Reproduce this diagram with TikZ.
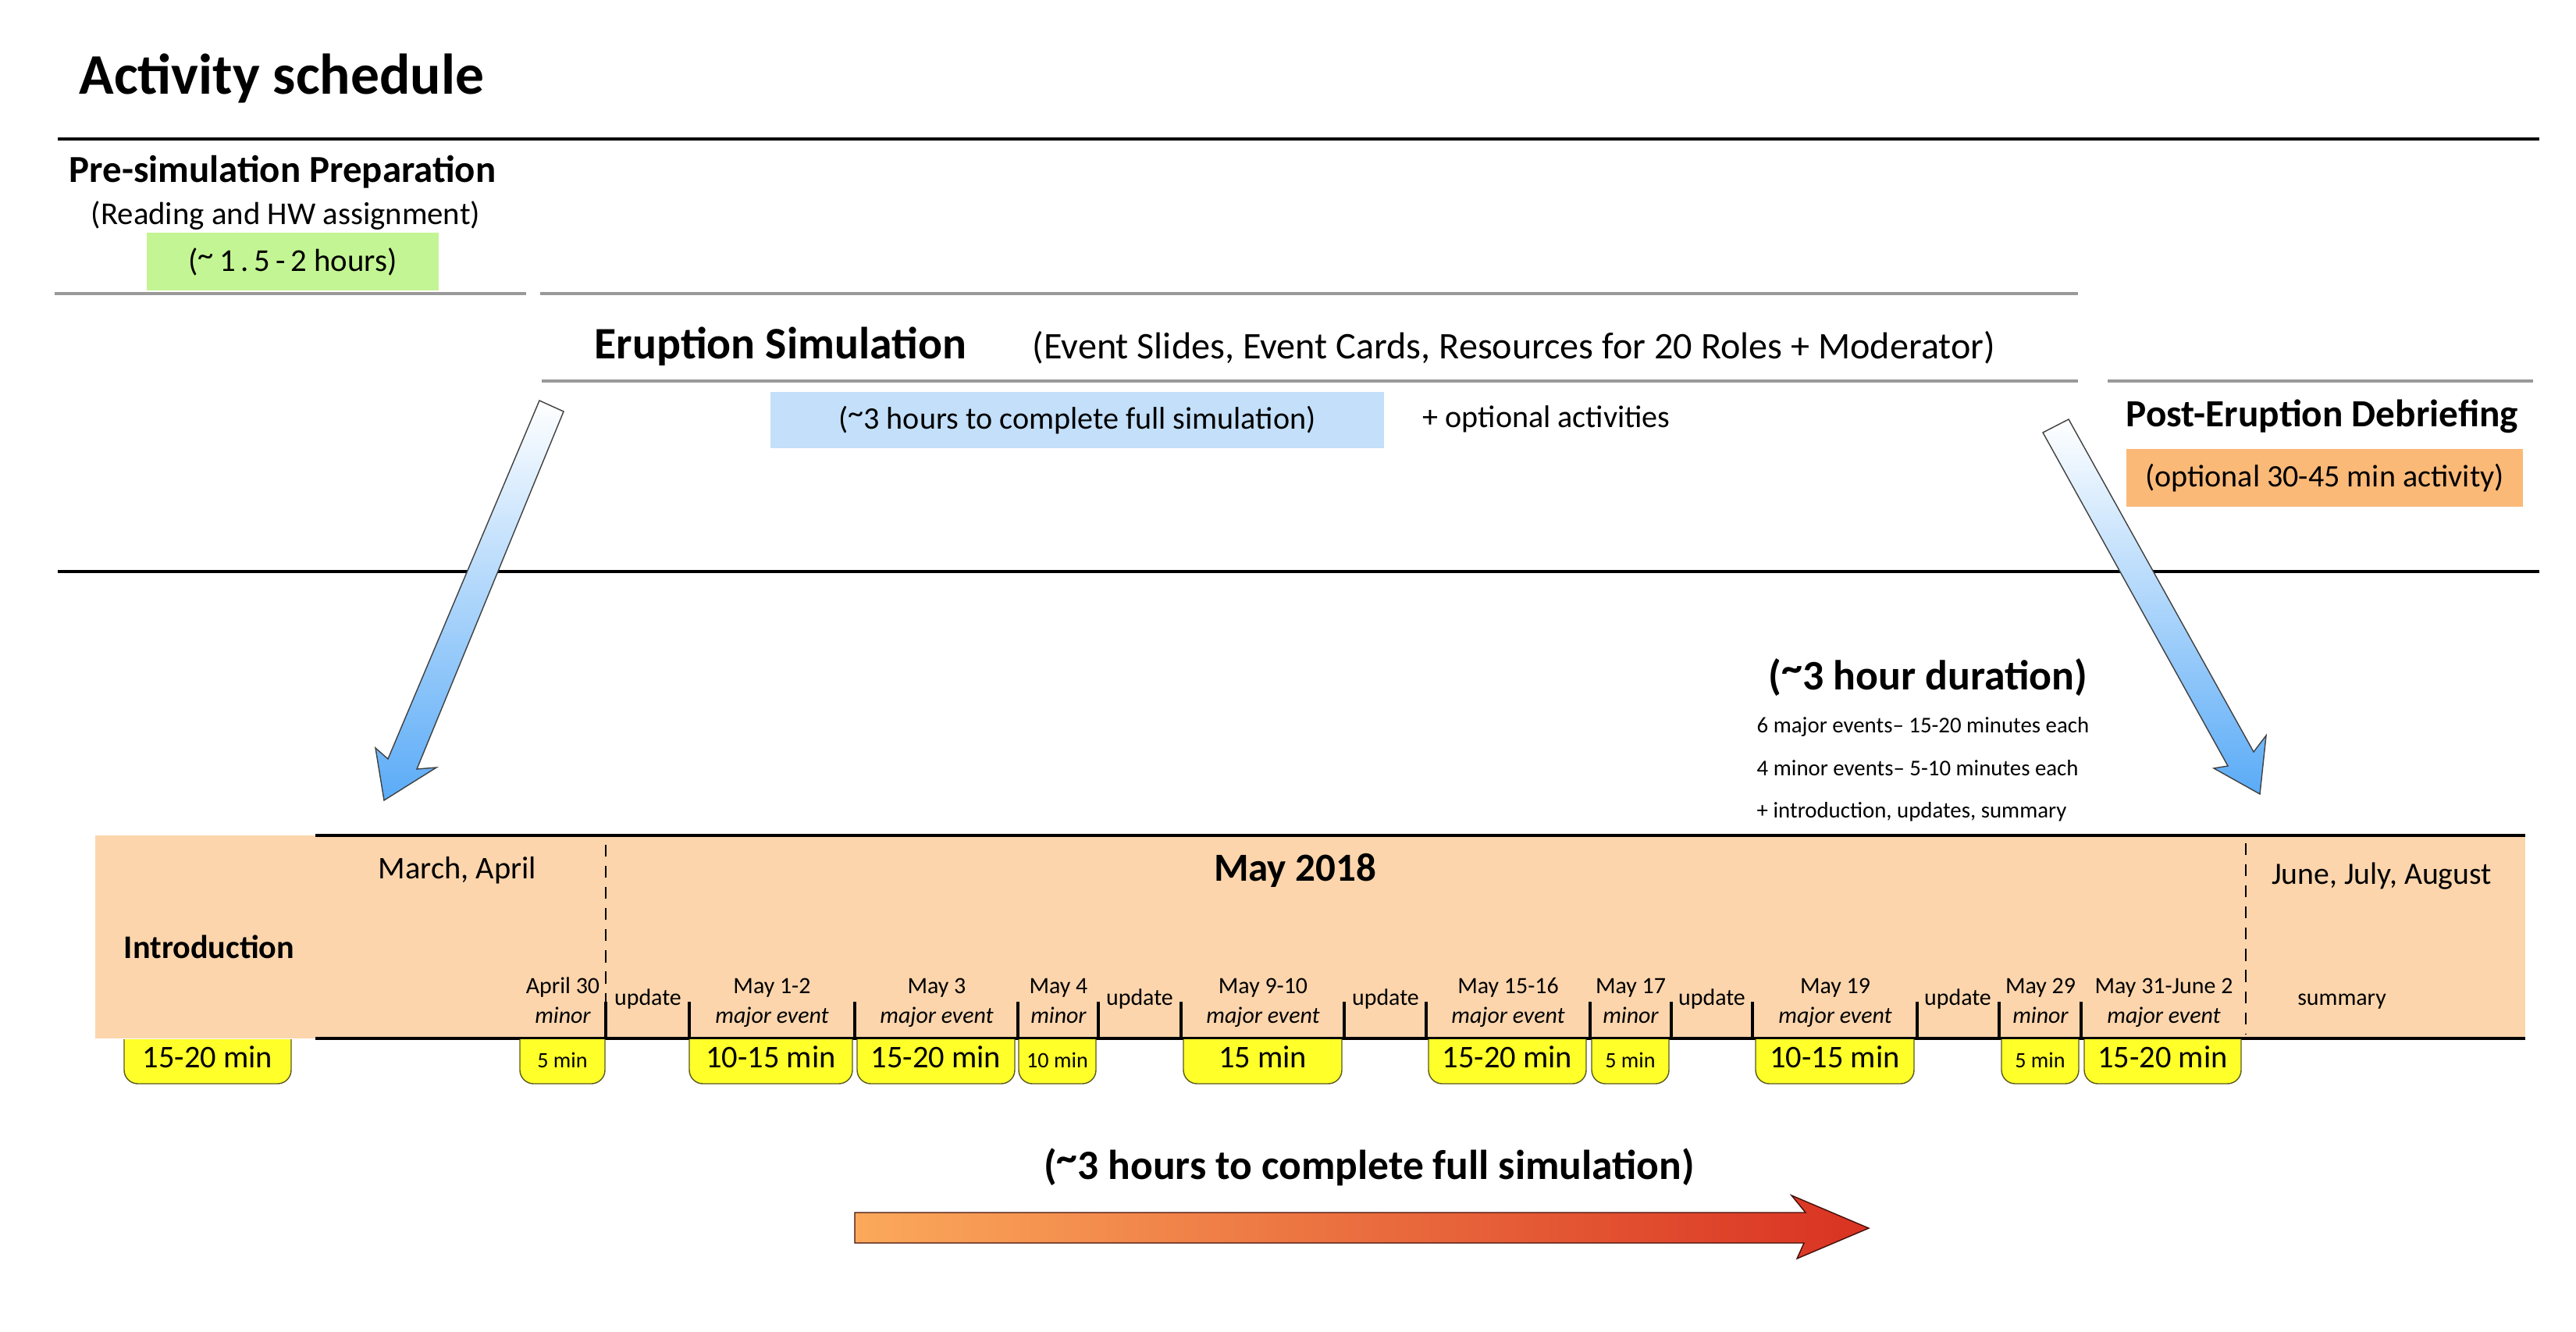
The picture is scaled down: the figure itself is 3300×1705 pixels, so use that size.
\documentclass[tikz,border=0pt]{standalone}
\usepackage{fontspec}
\setmainfont{Carlito}
\usetikzlibrary{positioning}
\usepackage{xcolor}
\definecolor{peach}{RGB}{252,213,172}
\definecolor{durYellow}{RGB}{255,255,42}
\definecolor{durLine}{RGB}{90,90,30}
\definecolor{prepGreen}{RGB}{196,245,148}
\definecolor{simBlue}{RGB}{195,223,249}
\definecolor{postOrange}{RGB}{251,185,120}
\definecolor{ruleGray}{RGB}{153,153,153}
\definecolor{arrowBlue}{RGB}{90,171,247}
\definecolor{timeStart}{RGB}{251,169,91}
\definecolor{timeEnd}{RGB}{217,50,34}
\newcommand{\fsz}[1]{\fontsize{#1}{#1}\selectfont}
\newcommand{\hitilde}{\raisebox{0.35ex}{\textasciitilde}}

\begin{document}
\begin{tikzpicture}[x=0.01cm, y=-0.01cm, every node/.style={inner sep=0pt, anchor=base},
    rule/.style={line width=1.3pt},
    grayrule/.style={draw=ruleGray, line width=1pt},
    tick/.style={line width=0.9pt},
    durbox/.style={draw=durLine, fill=durYellow, line width=0.4pt, rounded corners=5pt},
    bluearrow/.style={draw=black!75, line width=0.4pt, top color=white, bottom color=arrowBlue},
    evdate/.style={font=\fsz{8.5}},
    evkind/.style={font=\itshape\fsz{8.5}}]
    \useasboundingbox (0,0) rectangle (3300,1705);

    % header
    \node [font=\bfseries\fsz{20.9}, anchor=base west] (title) at (101,120) {Activity schedule};
    \draw [rule] (74,178) -- (3253,178);

    % pre-simulation
    \node [font=\bfseries\fsz{13.9}] (pre) at (362,233) {Pre-simulation Preparation};
    \node [font=\fsz{11.6}] (preread) at (366,287) {(Reading and HW assignment)};
    \node [fill=prepGreen, anchor=center, minimum width=3.73cm, minimum height=0.74cm, font=\fsz{11.6}] (prehours) at (375,335) {(\hitilde\,1\,.\,5\,-\,2 hours)};
    \draw [grayrule] (70,376) -- (674,376);
    \draw [grayrule] (692,376) -- (2662,376);

    % eruption simulation
    \node [font=\bfseries\fsz{16.4}, anchor=base west] (erupt) at (761,459) {Eruption Simulation};
    \node [font=\fsz{13.7}, anchor=base west] (eruptres) at (1322,459) {(Event Slides, Event Cards, Resources for 20 Roles + Moderator)};
    \draw [grayrule] (694,488) -- (2662,488);
    \draw [grayrule] (2700,488) -- (3245,488);
    \node [fill=simBlue, anchor=center, minimum width=7.85cm, minimum height=0.72cm, font=\fsz{11.4}] (simhours) at (1380,538) {(\hitilde 3 hours to complete full simulation)};
    \node [font=\fsz{11.4}, anchor=base west] (optional) at (1822,547) {+ optional activities};

    % post-eruption
    \node [font=\bfseries\fsz{14}] (post) at (2975,546) {Post-Eruption Debriefing};
    \node [fill=postOrange, anchor=center, minimum width=5.08cm, minimum height=0.73cm, font=\fsz{11.4}] (posthours) at (2978,612) {(optional 30-45 min activity)};

    \draw [rule] (74,732) -- (3253,732);

    % arrows down to the timeline
    \shade [bluearrow] (691,513) -- (497,972) -- (481,958) -- (492,1025) -- (559,983) -- (534,985) -- (722,527) -- cycle;
    \shade [bluearrow] (2617,554) -- (2854,981) -- (2836,984) -- (2895,1017) -- (2903,942) -- (2887,963) -- (2650,537) -- cycle;

    % duration notes
    \node [font=\bfseries\fsz{15.3}] (threehour) at (2470,883) {(\hitilde 3 hour duration)};
    \node [font=\fsz{8.2}, anchor=base west] (majors) at (2250,938) {6 major events-- 15-20 minutes each};
    \node [font=\fsz{8.2}, anchor=base west] (minors) at (2250,993) {4 minor events-- 5-10 minutes each};
    \node [font=\fsz{8.2}, anchor=base west] (extras) at (2250,1047) {+ introduction, updates, summary};

    % timeline band
    \fill [peach] (122,1070) rectangle (3235,1330);
    \draw [rule] (404,1070) -- (3235,1070);
    \draw [rule] (404,1330) -- (3235,1330);
    \draw [line width=0.8pt, dash pattern=on 4.3pt off 3.4pt] (776,1082) -- (776,1283);
    \draw [line width=0.8pt, dash pattern=on 4.3pt off 3.4pt] (2877,1080) -- (2877,1325);
    \foreach \x in {776,883,1095,1304,1407,1513,1722,1827,2037,2141,2245,2456,2561,2666}
        \draw [tick] (\x,1283) -- (\x,1330);

    \node [font=\bfseries\fsz{12}] (intro) at (268,1227) {Introduction};
    \node [font=\fsz{11.5}] (marapr) at (586,1125) {March, April};
    \node [font=\bfseries\fsz{14.5}] (may) at (1659,1128) {May 2018};
    \node [font=\fsz{11.3}] (summer) at (3051,1132) {June, July, August};

    \foreach \x/\d/\k [count=\i] in {721/April 30/minor, 989/May 1-2/major event, 1200/May 3/major event,
        1356/May 4/minor, 1618/May 9-10/major event, 1932/May 15-16/major event, 2089/May 17/minor,
        2351/May 19/major event, 2614/May 29/minor, 2772/May 31-June 2/major event} {
        \node [evdate] (date\i) at (\x,1272) {\d};
        \node [evkind] (kind\i) at (\x,1310) {\k};
    }
    \foreach \x [count=\i] in {830,1460,1775,2193,2508}
        \node [evdate] (upd\i) at (\x,1287) {update};
    \node [evdate] (summary) at (3000,1287) {summary};

    % yellow duration boxes
    \foreach \l/\r/\t/\s [count=\i] in {159/373/15-20 min/11.5, 666/775/5 min/8, 883/1092/10-15 min/11.5,
        1098/1300/15-20 min/11.5, 1305/1404/10 min/8, 1516/1719/15 min/11.5, 1830/2032/15-20 min/11.5,
        2039/2138/5 min/8, 2249/2452/10-15 min/11.5, 2564/2663/5 min/8, 2670/2871/15-20 min/11.5} {
        \draw [durbox] (\l,1331) -- (\l,1388) -- (\r,1388) -- (\r,1331);
        \node [font=\fsz{\s}] (len\i) at ({(\l+\r)/2},1367) {\t};
    }

    % overall time arrow
    \node [font=\bfseries\fsz{15.2}] (fullsim) at (1754,1510) {(\hitilde 3 hours to complete full simulation)};
    \shade [left color=timeStart, right color=timeEnd, draw=black!70!timeEnd, line width=0.4pt]
        (1095,1553) -- (2313,1553) -- (2295,1531) -- (2394,1573) -- (2302,1612) -- (2311,1592) -- (1095,1592) -- cycle;
\end{tikzpicture}
\end{document}
